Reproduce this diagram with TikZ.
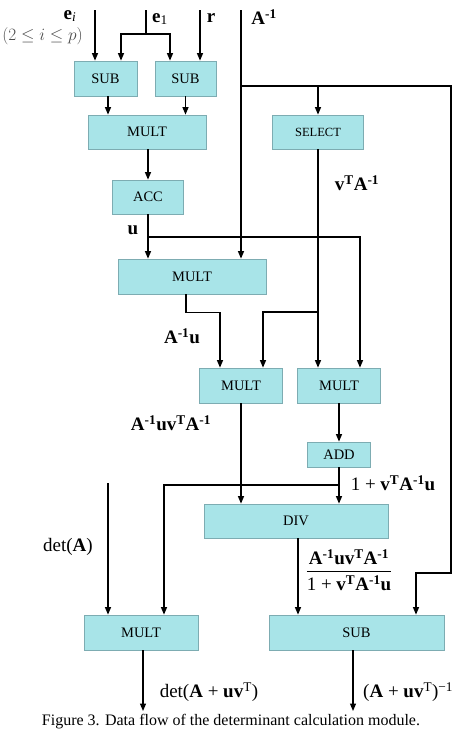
\documentclass[tikz,border=0pt]{standalone}
\usepackage{amsmath}
\usepackage{fontspec}
\setmainfont{Liberation Serif}
\usetikzlibrary{arrows.meta}

\definecolor{boxfill}{RGB}{168,228,232}
\definecolor{boxline}{RGB}{125,172,178}
\newcommand{\bA}{\textbf{A}}
\newcommand{\inv}{\textsuperscript{-1}}
\newcommand{\trp}{\textsuperscript{T}}

\begin{document}
\begin{tikzpicture}[x=1pt,y=-1pt,
    box/.style={draw=boxline,fill=boxfill,line width=0.8pt,inner sep=0pt,
      font=\fontsize{14.5}{14.5}\selectfont},
    flow/.style={line width=1.2pt,-{Triangle[length=7.5pt,width=6pt]}},
    wire/.style={line width=1.2pt},
    lab/.style={inner sep=0pt,font=\fontsize{19}{19}\selectfont\bfseries}]
   \useasboundingbox (0,0) rectangle (474,732);
   % operator boxes
   \node[box,minimum width=63pt,minimum height=35pt] (sub1) at (105.5,78.5) {SUB};
   \node[box,minimum width=61pt,minimum height=35pt] (sub2) at (185.5,78.5) {SUB};
   \node[box,minimum width=118pt,minimum height=34pt] (multa) at (147,132) {MULT};
   \node[box,minimum width=91pt,minimum height=34pt,font=\fontsize{12.5}{12.5}\selectfont] (sel) at (318,132) {SELECT};
   \node[box,minimum width=71pt,minimum height=34pt] (acc) at (148,197) {ACC};
   \node[box,minimum width=148pt,minimum height=35pt] (multb) at (192,276.5) {MULT};
   \node[box,minimum width=83pt,minimum height=35pt] (multc) at (241,385.5) {MULT};
   \node[box,minimum width=83pt,minimum height=35pt] (multd) at (339,385.5) {MULT};
   \node[box,minimum width=63pt,minimum height=25pt] (add) at (339,454.5) {ADD};
   \node[box,minimum width=184pt,minimum height=34pt] (div) at (296,521) {DIV};
   \node[box,minimum width=114pt,minimum height=35pt] (multe) at (141,632.5) {MULT};
   \node[box,minimum width=175pt,minimum height=35pt] (subc) at (356.5,632.5) {SUB};
   % free ends and corners
   \coordinate (ei) at (95,10);
   \coordinate (eone) at (146,10);
   \coordinate (eonej) at (146,34);
   \coordinate (rin) at (200,10);
   \coordinate (ainv) at (241,10);
   \coordinate (aj) at (241,86);
   \coordinate (sj) at (318,86);
   \coordinate (ak) at (451,86);
   \coordinate (al) at (451,573);
   \coordinate (uj) at (148,237);
   \coordinate (vj) at (318,312);
   \coordinate (addj) at (339,485);
   \coordinate (detin) at (108,483);
   \coordinate (outa) at (143,711);
   \coordinate (outb) at (353,711);
   % connectors
   \draw[flow] (ei) -- (ei |- sub1.north);
   \draw[wire] (eone) -- (eonej);
   \draw[flow] (eonej) -| ([xshift=15.5pt]sub1.north);
   \draw[flow] (eonej) -| ([xshift=-15.5pt]sub2.north);
   \draw[flow] (rin) -- (rin |- sub2.north);
   \draw[flow] ([xshift=2.5pt]sub1.south) -- ([xshift=2.5pt]sub1.south |- multa.north);
   \draw[flow] (sub2.south) -- (sub2.south |- multa.north);
   \draw[flow] ([xshift=1pt]multa.south) -- (acc.north);
   \draw[wire] (acc.south) -- (uj);
   \draw[flow] (uj) -- (uj |- multb.north);
   \draw[flow] (uj) -| ([xshift=21pt]multd.north);
   \draw[flow] (ainv) -- (ainv |- multb.north);
   \draw[flow] (aj) -- (ak) -- (al) -| ([xshift=59.5pt]subc.north);
   \draw[flow] (sj) -- (sel.north);
   \draw[flow] (sel.south) -- ([xshift=-21pt]multd.north);
   \draw[flow] (vj) -| ([xshift=22pt]multc.north);
   \draw[flow] ([xshift=-6pt]multb.south) -- ++(0,18) -| ([xshift=-21pt]multc.north);
   \draw[flow] (multc.south) -- ([xshift=-55pt]div.north);
   \draw[flow] (multd.south) -- (add.north);
   \draw[flow] (add.south) -- ([xshift=43pt]div.north);
   \draw[flow] (addj) -| ([xshift=23pt]multe.north);
   \draw[flow] (detin) -- ([xshift=-33pt]multe.north);
   \draw[flow] ([xshift=2pt]div.south) -- ([xshift=-58.5pt]subc.north);
   \draw[flow] ([xshift=2pt]multe.south) -- (outa);
   \draw[flow] ([xshift=-3.5pt]subc.south) -- (outb);
   % signal labels
   \node[lab] (lei) at (70,16) {e\textsubscript{\textmd{\textit{i}}}};
   \node[inner sep=0pt,anchor=east,text=black!70,font=\fontsize{17}{17}\selectfont] (lrange) at (83,36) {$(2\le i\le p)$};
   \node[lab] (leone) at (160,19) {e\textsubscript{\textmd{1}}};
   \node[lab] (lr) at (211,18) {r};
   \node[lab] (lainv) at (264,17) {A\inv};
   \node[lab] (lva) at (357,183) {v\trp A\inv};
   \node[lab] (lu) at (133,230) {u};
   \node[lab] (lau) at (182,336) {A\inv u};
   \node[lab] (lauva) at (171,423) {A\inv uv\trp A\inv};
   \node[lab] (lden) at (393,483) {\textmd{1 + }v\trp A\inv u};
   \node[lab] (lfrac) at (349,570) {$\genfrac{}{}{1pt}{0}{\hbox{A\inv uv\trp A\inv}}{\hbox{\textmd{1 + }v\trp A\inv u}}$};
   \node[lab,font=\fontsize{19}{19}\selectfont] (ldet) at (68,547) {det(\bA)};
   \node[lab,font=\fontsize{19}{19}\selectfont] (ldetout) at (209,692) {det(\bA{} + \textbf{uv}\trp)};
   \node[lab,font=\fontsize{19}{19}\selectfont,anchor=west] (linvout) at (363,692) {(\bA{} + \textbf{uv}\trp)\textsuperscript{\textminus1}};
   \node[inner sep=0pt,font=\fontsize{16}{16}\selectfont] (caption) at (231,722) {Figure 3. Data flow of the determinant calculation module.};
\end{tikzpicture}
\end{document}
